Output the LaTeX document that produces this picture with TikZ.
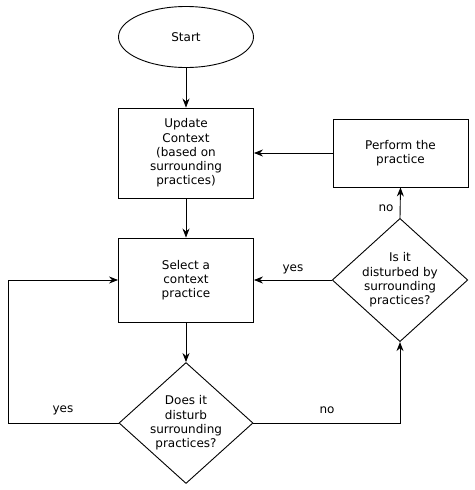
\documentclass[tikz,border=0pt]{standalone}
\usepackage{fontspec}
\setmainfont{DejaVu Sans}
\usetikzlibrary{shapes.geometric,arrows.meta}
\begin{document}
\begin{tikzpicture}[x=1pt,y=-1pt,
  every node/.style={font=\fontsize{12}{14.3}\selectfont, align=center, inner sep=0pt},
  procbox/.style={draw, line width=0.9pt, minimum width=135pt},
  decision/.style={draw, diamond, line width=0.9pt, minimum width=134pt, minimum height=121pt, aspect=1.1},
  flow/.style={draw, line width=0.9pt, -{Stealth[length=9pt,width=7pt]}},
  lbl/.style={font=\fontsize{12}{14}\selectfont}
]
\useasboundingbox (0,0) rectangle (474,490);
\node[draw, ellipse, line width=0.9pt, minimum width=135pt, minimum height=61pt] (start) at (186,37) {Start};
\node[procbox, minimum height=90pt] (update) at (186,153) {Update\\Context\\(based on\\surrounding\\practices)};
\node[procbox, minimum height=68pt] (perform) at (400.5,153) {Perform the\\practice};
\node[procbox, minimum height=84pt] (select) at (186,280) {Select a\\context\\practice};
\node[decision] (does) at (186,423) {Does it\\disturb\\surrounding\\practices?};
\node[decision] (isit) at (400,280) {Is it\\disturbed by\\surrounding\\practices?};
\coordinate (lft) at (8,423);
\coordinate (rgt) at (400,423);
\draw[flow] (start) -- (update);
\draw[flow] (update) -- (select);
\draw[flow] (select) -- (does);
\draw[flow] (does.west) -- (lft) |- (select.west);
\draw[flow] (does.east) -- (rgt) -- (isit.south);
\draw[flow] (isit.west) -- (select.east);
\draw[flow] (isit.north) -- (perform.south);
\draw[flow] (perform.west) -- (update.east);
\node[lbl] (yes1) at (63,410) {yes};
\node[lbl] (no1) at (327,410) {no};
\node[lbl] (yes2) at (293,269) {yes};
\node[lbl] (no2) at (386,208) {no};
\end{tikzpicture}
\end{document}
